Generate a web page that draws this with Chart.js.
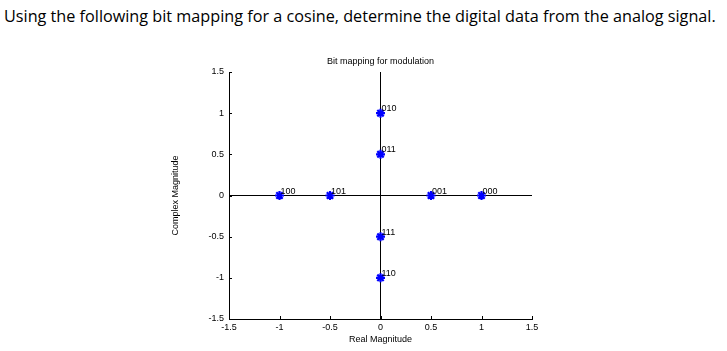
<!DOCTYPE html>
<html>
<head>
<meta charset="utf-8">
<script src="https://cdn.jsdelivr.net/npm/chart.js@4/dist/chart.umd.min.js"></script>
<style>
  html, body { margin: 0; padding: 0; background: #fff; }
  #wrap { position: relative; width: 727px; height: 351px; overflow: hidden; }
  #heading { position: absolute; left: 4px; top: 5px; font-family: "Open Sans", sans-serif; font-size: 16px; color: #000; white-space: nowrap; transform-origin: 0 0; }
  canvas { position: absolute; left: 0; top: 0; }
</style>
</head>
<body>
<div id="wrap">
  <div id="heading">Using the following bit mapping for a cosine, determine the digital data from the analog signal.</div>
  <canvas id="chart" width="727" height="351"></canvas>
</div>
<script>
// bit mapping points (real, complex) and their labels
const bitLabels = ['100', '101', '010', '011', '001', '000', '111', '110'];
const realValues = [-1, -0.5, 0, 0, 0.5, 1, 0, 0];
const complexValues = [0, 0, 1, 0.5, 0, 0, -0.5, -1];
const tickValues = [-1.5, -1, -0.5, 0, 0.5, 1, 1.5];

const chartTitle = 'Bit mapping for modulation';
const xTitle = 'Real Magnitude';
const yTitle = 'Complex Magnitude';

// fit heading to the width in the picture
const head = document.getElementById('heading');
head.style.transform = 'scaleX(' + (712 / head.offsetWidth) + ')';

const fontFamily = '"Liberation Sans", Arial, sans-serif';
const smallFont = '9px ' + fontFamily;

// labels, titles and inward tick marks
const extras = {
  id: 'extras',
  afterDraw(chart) {
    const ctx = chart.ctx;
    const xs = chart.scales.x, ys = chart.scales.y;
    const area = chart.chartArea;
    ctx.save();
    ctx.strokeStyle = '#000';
    ctx.lineWidth = 1;
    tickValues.forEach(v => {
      const px = Math.round(xs.getPixelForValue(v)) + 0.5;
      ctx.beginPath(); ctx.moveTo(px, area.bottom); ctx.lineTo(px, area.bottom - 3); ctx.stroke();
      const py = Math.round(ys.getPixelForValue(v)) + 0.5;
      ctx.beginPath(); ctx.moveTo(area.left, py); ctx.lineTo(area.left + 3, py); ctx.stroke();
    });
    ctx.fillStyle = '#000';
    ctx.font = smallFont;
    ctx.textAlign = 'left';
    ctx.textBaseline = 'alphabetic';
    const meta = chart.getDatasetMeta(0);
    meta.data.forEach((pt, i) => {
      ctx.fillText(bitLabels[i], pt.x + 1, pt.y - 2);
    });
    ctx.textAlign = 'center';
    ctx.textBaseline = 'middle';
    const cx = (area.left + area.right) / 2;
    ctx.fillText(chartTitle, cx, 62);
    ctx.fillText(xTitle, cx, 340);
    ctx.translate(176, (area.top + area.bottom) / 2);
    ctx.rotate(-Math.PI / 2);
    ctx.fillText(yTitle, 0, 0);
    ctx.restore();
  }
};

const ctx = document.getElementById('chart').getContext('2d');
const chart = new Chart(ctx, {
  type: 'scatter',
  data: {
    datasets: [{
      data: realValues.map((x, i) => ({ x: x, y: complexValues[i] })),
      pointStyle: 'star',
      pointRadius: 4.5,
      pointBorderWidth: 2.2,
      borderColor: '#0000ff',
      backgroundColor: '#0000ff'
    }]
  },
  options: {
    responsive: false,
    animation: false,
    layout: { padding: { left: 0, right: 195, top: 72, bottom: 0 } },
    plugins: { legend: { display: false }, tooltip: { enabled: false } },
    scales: {
      x: {
        type: 'linear', min: -1.5, max: 1.5,
        afterFit(scale) { scale.height = 32; },
        afterBuildTicks(scale) { scale.ticks = tickValues.map(v => ({ value: v })); },
        border: { display: true, color: '#000' },
        grid: {
          drawTicks: false,
          color: c => (c.tick && c.tick.value === 0 ? '#000' : 'rgba(0,0,0,0)')
        },
        ticks: { color: '#000', font: { family: fontFamily, size: 9 }, padding: 3, maxRotation: 0, callback: v => String(v) }
      },
      y: {
        type: 'linear', min: -1.5, max: 1.5,
        afterFit(scale) { scale.width = 229; },
        afterBuildTicks(scale) { scale.ticks = tickValues.map(v => ({ value: v })); },
        border: { display: true, color: '#000' },
        grid: {
          drawTicks: false,
          color: c => (c.tick && c.tick.value === 0 ? '#000' : 'rgba(0,0,0,0)')
        },
        ticks: { color: '#000', font: { family: fontFamily, size: 9 }, padding: 5, callback: v => String(v) }
      }
    }
  },
  plugins: [extras]
});
</script>
</body>
</html>
